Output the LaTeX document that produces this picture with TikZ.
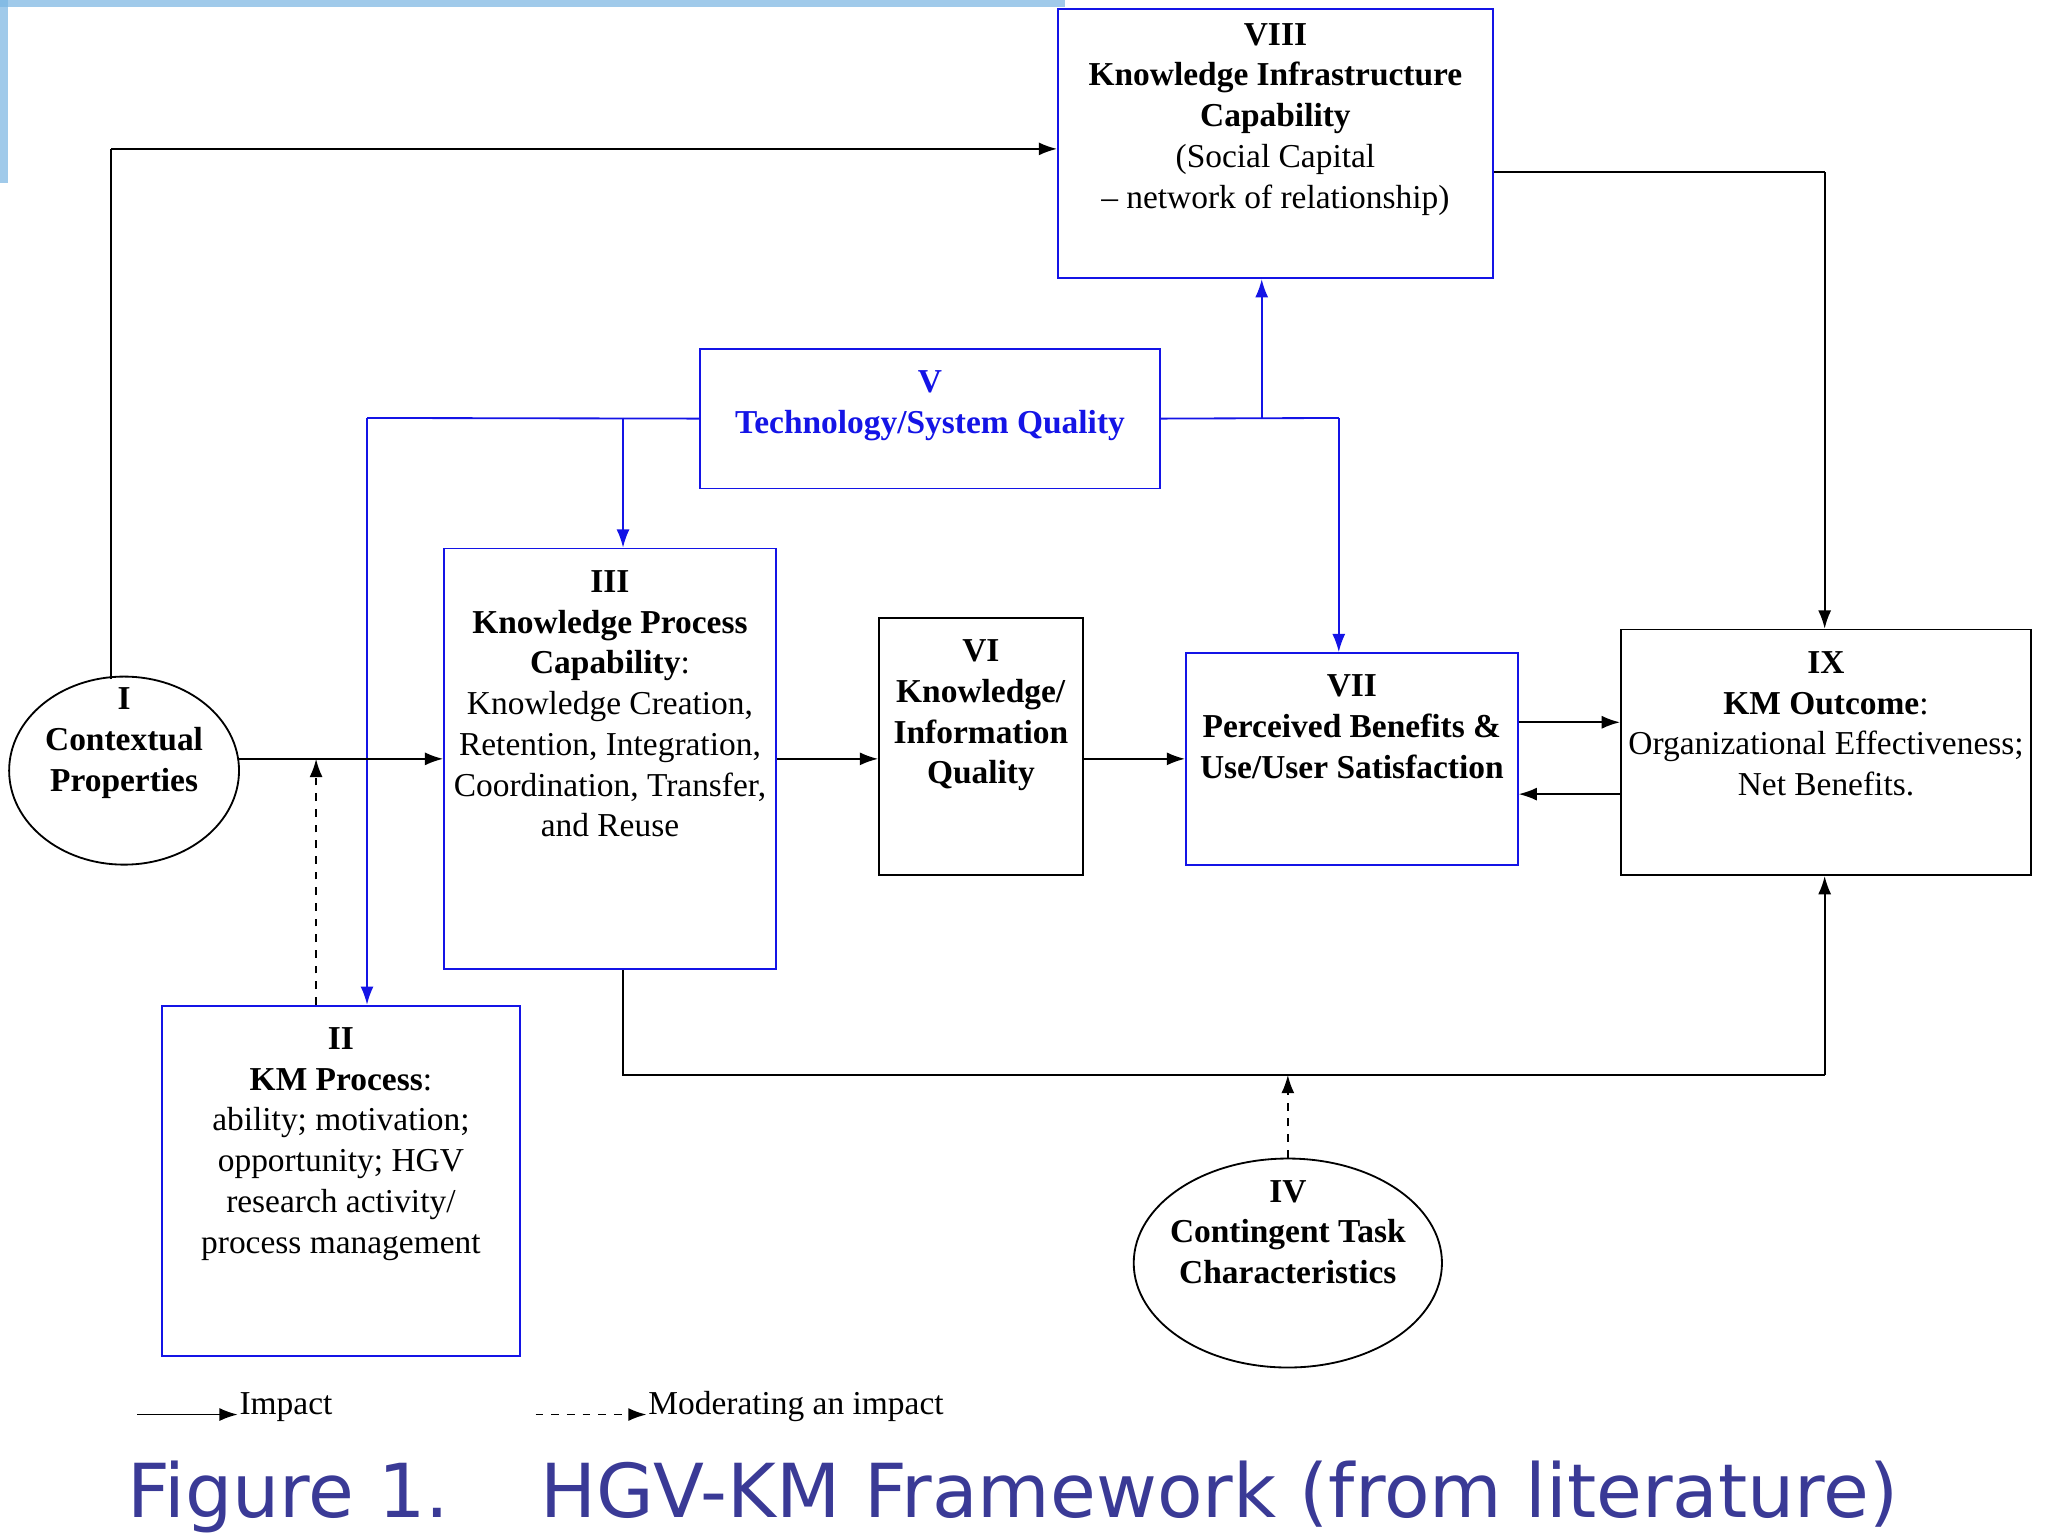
\documentclass[tikz,border=0pt]{standalone}
\usepackage{fontspec}
\setmainfont{Liberation Serif}
\newfontfamily\titlefont{DejaVu Sans}
\usetikzlibrary{arrows.meta,calc,shapes.geometric}
\definecolor{kblue}{RGB}{20,20,230}
\definecolor{ttl}{RGB}{58,58,150}
\definecolor{strip}{RGB}{120,180,225}
\begin{document}
\begin{tikzpicture}[x=0.5pt,y=-0.5pt,
  box/.style={draw,line width=0.7pt,inner sep=0pt},
  bbox/.style={box,draw=kblue},
  txt/.style={anchor=north,align=center,font=\fontsize{12.8}{15.6}\selectfont,inner sep=0pt},
  arr/.style={line width=0.7pt,-{Latex[length=7pt,width=5pt]}},
  barr/.style={arr,draw=kblue,fill=kblue},
  darr/.style={arr,dashed}]
\useasboundingbox (0,0) rectangle (1568,1176);
% decoration
\fill[strip,opacity=0.7] (0,0) rectangle (815,5);
\fill[strip,opacity=0.7] (0,0) rectangle (6,140);
% boxes
\node[bbox,minimum width=166.5pt,minimum height=103pt] (viii) at (976.5,110) {};
\node[txt] at ($(viii.north)+(0,11)$) {\textbf{VIII}\\\textbf{Knowledge Infrastructure}\\\textbf{Capability}\\(Social Capital\\– network of relationship)};
\node[bbox,minimum width=176pt,minimum height=53.5pt] (v) at (712,320.5) {};
\node[txt,text=kblue] at ($(v.north)+(0,17)$) {\textbf{V}\\\textbf{Technology/System Quality}};
\node[bbox,minimum width=127pt,minimum height=161pt] (iii) at (467,581) {};
\node[txt] at ($(iii.north)+(0,17)$) {\textbf{III}\\\textbf{Knowledge Process}\\\textbf{Capability}:\\Knowledge Creation,\\Retention, Integration,\\Coordination, Transfer,\\and Reuse};
\node[box,minimum width=78pt,minimum height=98.5pt] (vi) at (751,571.5) {};
\node[txt] at ($(vi.north)+(0,17)$) {\textbf{VI}\\\textbf{Knowledge/}\\\textbf{Information}\\\textbf{Quality}};
\node[bbox,minimum width=127pt,minimum height=81pt] (vii) at (1035,581) {};
\node[txt] at ($(vii.north)+(0,17)$) {\textbf{VII}\\\textbf{Perceived Benefits \&}\\\textbf{Use/User Satisfaction}};
\node[box,minimum width=157pt,minimum height=94pt] (ix) at (1398,576) {};
\node[txt] at ($(ix.north)+(0,17)$) {\textbf{IX}\\\textbf{KM Outcome}:\\Organizational Effectiveness;\\Net Benefits.};
\node[bbox,minimum width=137pt,minimum height=134pt] (ii) at (261,904) {};
\node[txt] at ($(ii.north)+(0,17)$) {\textbf{II}\\\textbf{KM Process}:\\ability; motivation;\\opportunity; HGV\\research activity/\\process management};
\node[draw,ellipse,line width=0.7pt,minimum width=88pt,minimum height=72pt,inner sep=0pt] (i) at (95,590) {};
\node[txt] at ($(i.north)+(0,9)$) {\textbf{I}\\\textbf{Contextual}\\\textbf{Properties}};
\node[draw,ellipse,line width=0.7pt,minimum width=118pt,minimum height=80pt,inner sep=0pt] (iv) at (986,967) {};
\node[txt] at ($(iv.north)+(0,17)$) {\textbf{IV}\\\textbf{Contingent Task}\\\textbf{Characteristics}};
% connectors
\coordinate (a1) at (85,114);
\draw[line width=0.7pt] (85,520) -- (a1);
\draw[arr] (a1) -- (a1 -| viii.west);
\coordinate (a2) at (1397,132);
\draw[line width=0.7pt] (a2 -| viii.east) -- (a2);
\draw[arr] (a2) -- (a2 |- ix.north);
\coordinate (b1) at (281,320);
\draw[kblue,line width=0.7pt] (v.west) -- (b1);
\draw[barr] (b1) -- (b1 |- ii.north);
\coordinate (b2) at (477,320);
\draw[barr] (b2) -- (b2 |- iii.north);
\coordinate (b3) at (1025,320);
\draw[kblue,line width=0.7pt] (v.east) -- (b3);
\draw[barr] (b3) -- (b3 |- vii.north);
\coordinate (b4) at (966,320);
\draw[barr] (b4) -- (b4 |- viii.south);
\coordinate (c1) at (183,581);
\draw[arr] (c1) -- (c1 -| iii.west);
\coordinate (c2) at (242,581);
\draw[darr] (c2 |- ii.north) -- (c2);
\draw[arr] (iii.east |- c1) -- (vi.west |- c1);
\draw[arr] (vi.east |- c1) -- (vii.west |- c1);
\coordinate (d1) at (1200,553);
\coordinate (d2) at (1200,608);
\draw[arr] (d1 -| vii.east) -- (d1 -| ix.west);
\draw[arr] (d2 -| ix.west) -- (d2 -| vii.east);
\coordinate (e1) at (477,823);
\coordinate (e2) at (1397,823);
\draw[line width=0.7pt] (e1 |- iii.south) -- (e1) -- (e2);
\draw[arr] (e2) -- (e2 |- ix.south);
\coordinate (e3) at (986,823);
\draw[darr] (iv.north) -- (e3);
% legend
\coordinate (l1) at (105,1083);
\coordinate (l2) at (182,1083);
\draw[arr] (l1) -- (l2);
\node[anchor=base west,inner sep=0pt,font=\fontsize{12.8}{15.6}\selectfont] (li) at (183,1083) {Impact};
\coordinate (l3) at (410,1083);
\coordinate (l4) at (495,1083);
\draw[darr] (l3) -- (l4);
\node[anchor=base west,inner sep=0pt,font=\fontsize{12.8}{15.6}\selectfont] (lm) at (496,1083) {Moderating an impact};
% title
\node[anchor=base west,inner sep=0pt,text=ttl,font=\titlefont\fontsize{28.5}{32}\selectfont] (title) at (97,1162) {Figure 1.\hspace{0.8em} HGV-KM Framework (from literature)};
\end{tikzpicture}
\end{document}
